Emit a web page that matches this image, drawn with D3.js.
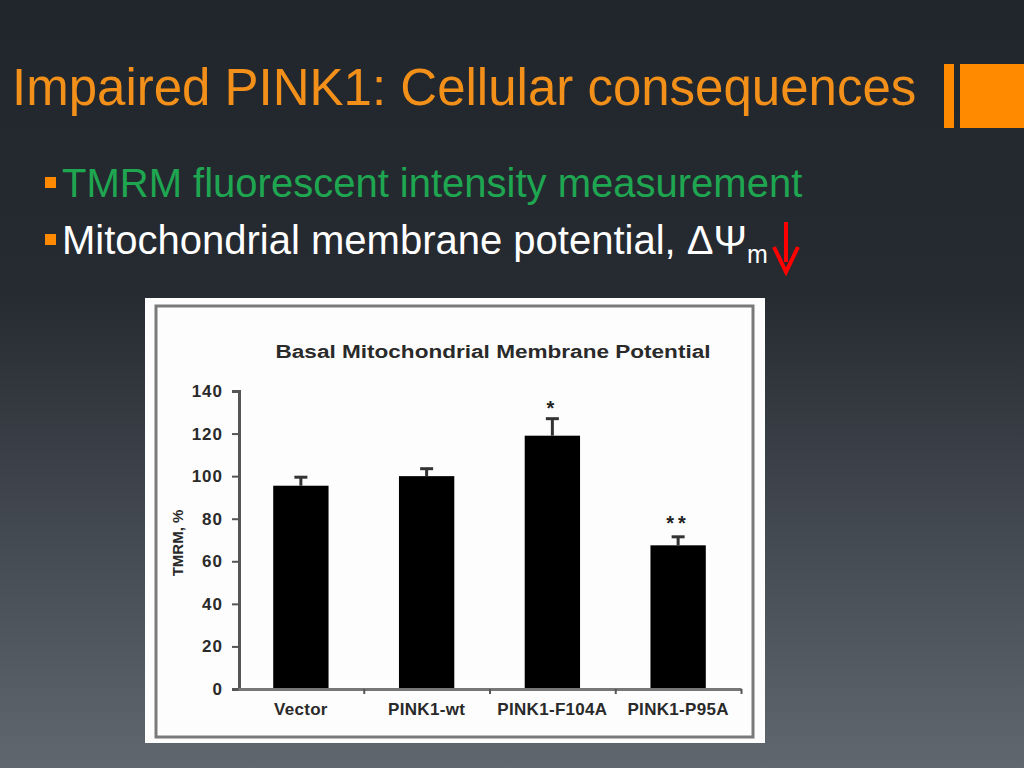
<!DOCTYPE html>
<html>
<head>
<meta charset="utf-8">
<script src="https://cdn.jsdelivr.net/npm/d3@7"></script>
<style>
  html, body { margin: 0; padding: 0; background: #22272e; }
  svg { display: block; }
  text { font-family: "Liberation Sans", Arial, sans-serif; }
</style>
</head>
<body>
<div id="slide"></div>
<script>
// chart data
var categories = ["Vector", "PINK1-wt", "PINK1-F104A", "PINK1-P95A"];
var means = [95.5, 100, 119, 67.5];
var errors = [4, 3.5, 8, 4];
var marks = ["", "", "*", "**"];
var yTicks = [0, 20, 40, 60, 80, 100, 120, 140];

var slideTitle = "Impaired PINK1: Cellular consequences";
var bullets = ["TMRM fluorescent intensity measurement", "Mitochondrial membrane potential, \u0394\u03a8"];

var W = 1024, H = 768;
var svg = d3.select("#slide").append("svg").attr("width", W).attr("height", H);

// slide background
var defs = svg.append("defs");
var grad = defs.append("linearGradient").attr("id", "bg").attr("x1", 0).attr("y1", 0).attr("x2", 0).attr("y2", 1);
grad.append("stop").attr("offset", "0%").attr("stop-color", "#21262d");
grad.append("stop").attr("offset", "38%").attr("stop-color", "#262b32");
grad.append("stop").attr("offset", "100%").attr("stop-color", "#60676f");
svg.append("rect").attr("width", W).attr("height", H).attr("fill", "url(#bg)");

// title + orange block
svg.append("text").attr("x", 12).attr("y", 105)
    .style("font-size", "51px").attr("fill", "#f39019").text(slideTitle);
svg.append("rect").attr("x", 944).attr("y", 64).attr("width", 10).attr("height", 64).attr("fill", "#ff8a00");
svg.append("rect").attr("x", 960).attr("y", 64).attr("width", 64).attr("height", 64).attr("fill", "#ff8a00");

// bullets
var bulletColors = ["#1fa650", "#ffffff"];
bullets.forEach(function (b, i) {
    var base = 197 + i * 57;
    svg.append("rect").attr("x", 45).attr("y", base - 20).attr("width", 11).attr("height", 11).attr("fill", "#ff8a00");
    var t = svg.append("text").attr("x", 62).attr("y", base)
        .style("font-size", "40px").attr("fill", bulletColors[i]).text(b);
    if (i == 1) {
        t.append("tspan").attr("dy", 9).style("font-size", "25px").text("m");
        // red down arrow
        var ax = 786;
        svg.append("line").attr("x1", ax).attr("x2", ax).attr("y1", 222).attr("y2", 262)
            .attr("stroke", "#ff0000").attr("stroke-width", 4);
        svg.append("path").attr("d", "M" + (ax - 12) + ",247 L" + ax + ",272 L" + (ax + 12) + ",247")
            .attr("fill", "none").attr("stroke", "#ff0000").attr("stroke-width", 4);
    }
});

// pasted figure
svg.append("rect").attr("x", 145).attr("y", 298).attr("width", 620).attr("height", 445).attr("fill", "#fdfdfd");
svg.append("rect").attr("x", 156).attr("y", 306).attr("width", 597).attr("height", 431)
    .attr("fill", "none").attr("stroke", "#7a7a7a").attr("stroke-width", 3);

var x = d3.scaleBand().domain(categories).range([238, 741]).paddingInner(0.56).paddingOuter(0.28);
var y = d3.scaleLinear().domain([0, 140]).range([689, 391]);
var xEdge = d3.scaleLinear().domain([0, categories.length]).range([238, 741]);

var g = svg.append("g");

g.append("text").attr("x", 493).attr("y", 358).attr("text-anchor", "middle")
    .attr("textLength", 435).attr("lengthAdjust", "spacingAndGlyphs")
    .style("font-size", "18px").style("font-weight", "bold").attr("fill", "#2a2a2a")
    .text("Basal Mitochondrial Membrane Potential");

// bars
g.selectAll("rect.bar").data(categories).enter().append("rect").attr("class", "bar")
    .attr("x", function (d) { return x(d); })
    .attr("width", x.bandwidth())
    .attr("y", function (d, i) { return y(means[i]); })
    .attr("height", function (d, i) { return y(0) - y(means[i]); })
    .attr("fill", "#000");

// error bars
var cx = function (d) { return x(d) + x.bandwidth() / 2; };
g.selectAll("line.err").data(categories).enter().append("line").attr("class", "err")
    .attr("x1", cx).attr("x2", cx)
    .attr("y1", function (d, i) { return y(means[i]); })
    .attr("y2", function (d, i) { return y(means[i] + errors[i]); })
    .attr("stroke", "#333").attr("stroke-width", 3);
g.selectAll("line.cap").data(categories).enter().append("line").attr("class", "cap")
    .attr("x1", function (d) { return cx(d) - 6.5; }).attr("x2", function (d) { return cx(d) + 6.5; })
    .attr("y1", function (d, i) { return y(means[i] + errors[i]); })
    .attr("y2", function (d, i) { return y(means[i] + errors[i]); })
    .attr("stroke", "#333").attr("stroke-width", 3);

// significance stars
g.selectAll("text.sig").data(categories).enter().append("text").attr("class", "sig")
    .attr("x", cx).attr("y", function (d, i) { return y(means[i] + errors[i]) - (i == 3 ? 7 : 4); })
    .attr("text-anchor", "middle").style("font-size", "20px").style("font-weight", "bold")
    .style("letter-spacing", "4px").attr("fill", "#222")
    .text(function (d, i) { return marks[i]; });

// y axis
var yAxis = g.append("g").attr("transform", "translate(239,0)")
    .call(d3.axisLeft(y).tickValues(yTicks).tickSize(7).tickPadding(9));
yAxis.select(".domain").attr("stroke", "#555").attr("stroke-width", 3);
yAxis.selectAll(".tick line").attr("stroke", "#555").attr("stroke-width", 2);
yAxis.selectAll(".tick text").style("font-size", "17px").style("font-weight", "bold")
    .style("letter-spacing", "1px").style("font-family", "'Liberation Sans', Arial, sans-serif").attr("fill", "#2a2a2a");

// x axis with ticks on category boundaries
var xAxis = g.append("g").attr("transform", "translate(0,689)")
    .call(d3.axisBottom(xEdge).tickValues([1, 2, 3, 4]).tickSize(5).tickSizeOuter(0).tickFormat(""));
xAxis.select(".domain").attr("stroke", "#777").attr("stroke-width", 3);
xAxis.selectAll(".tick line").attr("stroke", "#555").attr("stroke-width", 2);

g.selectAll("text.cat").data(categories).enter().append("text").attr("class", "cat")
    .attr("x", cx).attr("y", 715).attr("text-anchor", "middle")
    .style("font-size", "17px").style("font-weight", "bold").style("letter-spacing", "0.3px")
    .attr("fill", "#2a2a2a").text(function (d) { return d; });

// y axis title
g.append("text").attr("transform", "translate(183,543) rotate(-90)").attr("text-anchor", "middle")
    .style("font-size", "15px").style("font-weight", "bold").attr("fill", "#2a2a2a").text("TMRM, %");
</script>
</body>
</html>
